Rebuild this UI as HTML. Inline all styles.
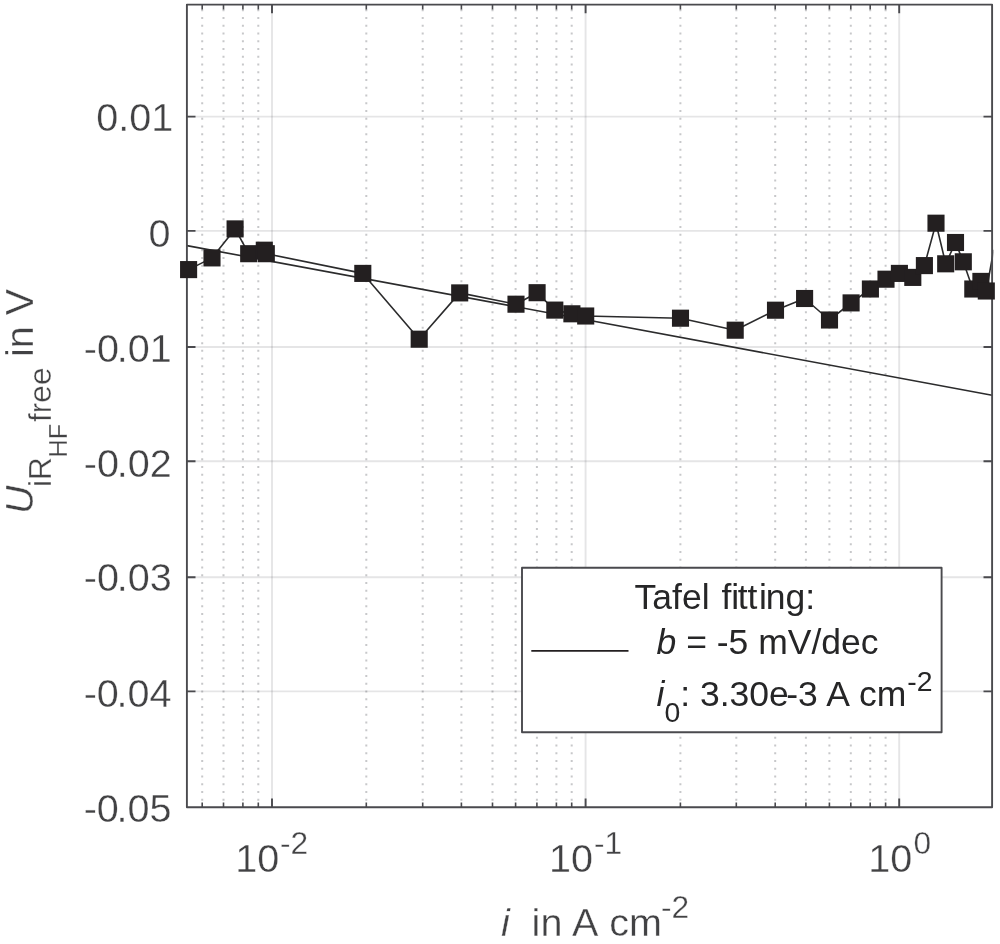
<!DOCTYPE html>
<html lang="en"><head><meta charset="utf-8"><title>Tafel fitting</title>
<style>html,body{margin:0;padding:0;background:#fff}body{width:1000px;height:944px;overflow:hidden}svg{display:block}text{font-family:"Liberation Sans",Arial,Helvetica,sans-serif}.ax text{stroke:#fff;stroke-width:.35px}.it{font-style:italic}</style>
</head><body>
<svg width="1000" height="944" viewBox="0 0 1000 944">
<rect x="0" y="0" width="1000" height="944" fill="#ffffff"/>
<g stroke="#282a34" stroke-opacity=".26" stroke-width="2" stroke-dasharray="2 5.74" fill="none">
<path d="M202.2 9.31V807.2"/>
<path d="M223.5 9.31V807.2"/>
<path d="M242.9 9.31V807.2"/>
<path d="M258.3 9.31V807.2"/>
<path d="M366.3 9.31V807.2"/>
<path d="M422.7 9.31V807.2"/>
<path d="M461.4 9.31V807.2"/>
<path d="M492.5 9.31V807.2"/>
<path d="M515.6 9.31V807.2"/>
<path d="M536.9 9.31V807.2"/>
<path d="M556.4 9.31V807.2"/>
<path d="M571.7 9.31V807.2"/>
<path d="M680.4 9.31V807.2"/>
<path d="M736.3 9.31V807.2"/>
<path d="M775.2 9.31V807.2"/>
<path d="M805.9 9.31V807.2"/>
<path d="M829.4 9.31V807.2"/>
<path d="M850.8 9.31V807.2"/>
<path d="M870.2 9.31V807.2"/>
<path d="M885.6 9.31V807.2"/>
</g>
<g stroke="#282a34" stroke-opacity=".12" stroke-width="1.9" fill="none">
<path d="M272.0 4.6V807.2"/>
<path d="M585.6 4.6V807.2"/>
<path d="M899.2 4.6V807.2"/>
<path d="M186.9 116.6H992.1"/>
<path d="M186.9 230.9H992.1"/>
<path d="M186.9 347.0H992.1"/>
<path d="M186.9 461.2H992.1"/>
<path d="M186.9 577.2H992.1"/>
<path d="M186.9 691.4H992.1"/>
</g>
<g stroke="#4a4a4e" stroke-width="1.9" fill="none">
<path stroke-width="1.6" d="M202.2 4.6v5M202.2 807.2v-4.6"/>
<path stroke-width="1.6" d="M223.5 4.6v5M223.5 807.2v-4.6"/>
<path stroke-width="1.6" d="M242.9 4.6v5M242.9 807.2v-4.6"/>
<path stroke-width="1.6" d="M258.3 4.6v5M258.3 807.2v-4.6"/>
<path stroke-width="1.6" d="M366.3 4.6v5M366.3 807.2v-4.6"/>
<path stroke-width="1.6" d="M422.7 4.6v5M422.7 807.2v-4.6"/>
<path stroke-width="1.6" d="M461.4 4.6v5M461.4 807.2v-4.6"/>
<path stroke-width="1.6" d="M492.5 4.6v5M492.5 807.2v-4.6"/>
<path stroke-width="1.6" d="M515.6 4.6v5M515.6 807.2v-4.6"/>
<path stroke-width="1.6" d="M536.9 4.6v5M536.9 807.2v-4.6"/>
<path stroke-width="1.6" d="M556.4 4.6v5M556.4 807.2v-4.6"/>
<path stroke-width="1.6" d="M571.7 4.6v5M571.7 807.2v-4.6"/>
<path stroke-width="1.6" d="M680.4 4.6v5M680.4 807.2v-4.6"/>
<path stroke-width="1.6" d="M736.3 4.6v5M736.3 807.2v-4.6"/>
<path stroke-width="1.6" d="M775.2 4.6v5M775.2 807.2v-4.6"/>
<path stroke-width="1.6" d="M805.9 4.6v5M805.9 807.2v-4.6"/>
<path stroke-width="1.6" d="M829.4 4.6v5M829.4 807.2v-4.6"/>
<path stroke-width="1.6" d="M850.8 4.6v5M850.8 807.2v-4.6"/>
<path stroke-width="1.6" d="M870.2 4.6v5M870.2 807.2v-4.6"/>
<path stroke-width="1.6" d="M885.6 4.6v5M885.6 807.2v-4.6"/>
<path d="M272.0 4.6v8.6M272.0 807.2v-8.6"/>
<path d="M585.6 4.6v8.6M585.6 807.2v-8.6"/>
<path d="M899.2 4.6v8.6M899.2 807.2v-8.6"/>
<path d="M186.9 116.6h8.6M992.1 116.6h-8.6"/>
<path d="M186.9 230.9h8.6M992.1 230.9h-8.6"/>
<path d="M186.9 347.0h8.6M992.1 347.0h-8.6"/>
<path d="M186.9 461.2h8.6M992.1 461.2h-8.6"/>
<path d="M186.9 577.2h8.6M992.1 577.2h-8.6"/>
<path d="M186.9 691.4h8.6M992.1 691.4h-8.6"/>
</g>
<path d="M186.9 245.6L992.1 395.2" stroke="#2b2b2c" stroke-width="1.6" fill="none"/>
<clipPath id="cp"><rect x="186" y="3.6" width="807.3" height="804.6"/></clipPath>
<polyline points="188.6,269.6 212.0,257.9 235.1,228.9 248.7,253.7 264.3,250.2 266.3,253.7 362.8,273.4 419.2,339.2 459.7,292.9 516.0,304.2 537.1,292.7 554.8,310.1 571.9,313.8 585.7,316.0 680.5,318.2 735.2,330.2 775.5,310.2 804.6,298.5 829.5,320.0 851.1,302.9 870.4,289.0 886.0,279.2 899.4,273.4 912.8,277.4 924.4,265.6 936.0,223.2 945.7,263.8 955.5,242.5 963.3,261.8 972.8,289.0 980.9,281.4 986.3,291.0 993.7,249.8" stroke="#2b2b2c" stroke-width="1.6" fill="none" stroke-linejoin="round" clip-path="url(#cp)"/>
<rect x="186.9" y="4.6" width="805.2" height="802.6" fill="none" stroke="#4a4a4e" stroke-width="1.9" stroke-linejoin="round"/>
<g fill="#231f20">
<rect x="180.05" y="261.05" width="17.1" height="17.1"/>
<rect x="203.45" y="249.35" width="17.1" height="17.1"/>
<rect x="226.55" y="220.35" width="17.1" height="17.1"/>
<rect x="240.15" y="245.15" width="17.1" height="17.1"/>
<rect x="255.75" y="241.65" width="17.1" height="17.1"/>
<rect x="257.75" y="245.15" width="17.1" height="17.1"/>
<rect x="354.25" y="264.85" width="17.1" height="17.1"/>
<rect x="410.65" y="330.65" width="17.1" height="17.1"/>
<rect x="451.15" y="284.35" width="17.1" height="17.1"/>
<rect x="507.45" y="295.65" width="17.1" height="17.1"/>
<rect x="528.55" y="284.15" width="17.1" height="17.1"/>
<rect x="546.25" y="301.55" width="17.1" height="17.1"/>
<rect x="563.35" y="305.25" width="17.1" height="17.1"/>
<rect x="577.15" y="307.45" width="17.1" height="17.1"/>
<rect x="671.95" y="309.65" width="17.1" height="17.1"/>
<rect x="726.65" y="321.65" width="17.1" height="17.1"/>
<rect x="766.95" y="301.65" width="17.1" height="17.1"/>
<rect x="796.05" y="289.95" width="17.1" height="17.1"/>
<rect x="820.95" y="311.45" width="17.1" height="17.1"/>
<rect x="842.55" y="294.35" width="17.1" height="17.1"/>
<rect x="861.85" y="280.45" width="17.1" height="17.1"/>
<rect x="877.45" y="270.65" width="17.1" height="17.1"/>
<rect x="890.85" y="264.85" width="17.1" height="17.1"/>
<rect x="904.25" y="268.85" width="17.1" height="17.1"/>
<rect x="915.85" y="257.05" width="17.1" height="17.1"/>
<rect x="927.45" y="214.65" width="17.1" height="17.1"/>
<rect x="937.15" y="255.25" width="17.1" height="17.1"/>
<rect x="946.95" y="233.95" width="17.1" height="17.1"/>
<rect x="954.75" y="253.25" width="17.1" height="17.1"/>
<rect x="964.25" y="280.45" width="17.1" height="17.1"/>
<rect x="972.35" y="272.85" width="17.1" height="17.1"/>
<rect x="977.75" y="282.45" width="17.1" height="17.1"/>
</g>
<rect x="522" y="567.8" width="419.6" height="164.4" fill="#ffffff" stroke="#4a4a4e" stroke-width="1.9" stroke-linejoin="round"/>
<path d="M531.3 650.9H628.5" stroke="#231f20" stroke-width="1.8"/>
<g fill="#262627" font-size="35.5">
<text x="634.6" y="609">Tafel <tspan dx="2">fi</tspan><tspan dx="-1.5">tt</tspan><tspan dx="1.5">i</tspan><tspan dx="-1">ng:</tspan></text>
<text x="656.6" y="653.6"><tspan class="it">b</tspan> = -5 mV/dec</text>
<text x="656.6" y="705.7"><tspan class="it">i</tspan><tspan font-size="28.4" dy="16.2">0</tspan><tspan dy="-16.2">: 3.30e</tspan><tspan dx="-2.6">-3</tspan><tspan dx=".6"> A</tspan><tspan dx="1"> cm</tspan><tspan font-size="28.4" dx="1" dy="-15">-2</tspan></text>
</g>
<g class="ax" fill="#424244" font-size="39.6" text-anchor="end">
<text x="173.2" y="130.9">0.01</text>
<text x="170.6" y="247.0">0</text>
<text x="169.4" y="361.5"><tspan dx="2.3">-0</tspan><tspan dx="-2.3">.01</tspan></text>
<text x="169.4" y="476.5"><tspan dx="2.3">-0</tspan><tspan dx="-2.3">.02</tspan></text>
<text x="169.4" y="591.2"><tspan dx="2.3">-0</tspan><tspan dx="-2.3">.03</tspan></text>
<text x="169.3" y="706.9"><tspan dx="2.3">-0</tspan><tspan dx="-2.3">.04</tspan></text>
<text x="169.3" y="821.5"><tspan dx="2.3">-0</tspan><tspan dx="-2.3">.05</tspan></text>
</g>
<g class="ax" fill="#424244" font-size="39.6">
<text x="235.3" y="872.1">10<tspan font-size="31.7" dx="0.6" dy="-18.1">-2</tspan></text>
<text x="548.9" y="872.1">10<tspan font-size="31.7" dx="1.1" dy="-18.1">-1</tspan></text>
<text x="868.3" y="872.1">10<tspan font-size="31.7" dx="1.1" dy="-18.1">0</tspan></text>
<text x="501" y="935.7" class="it">i</text>
<text x="531.6" y="935.7" word-spacing="0.7">in A <tspan dx="1.3">cm</tspan><tspan font-size="31.7" dx="-1" dy="-17.4">-2</tspan></text>
</g>
<g class="ax" fill="#424244">
<text transform="translate(33.2 514) rotate(-90)" font-size="39.6" class="it">U</text>
<text transform="translate(50.7 487) rotate(-90)" font-size="31.7">iR</text>
<text transform="translate(67.4 457.4) rotate(-90)" font-size="25.3">HF</text>
<text transform="translate(50.7 422) rotate(-90)" font-size="31.7">free</text>
<text transform="translate(33.2 357) rotate(-90)" font-size="39.6">in V</text>
</g>
</svg></body></html>
